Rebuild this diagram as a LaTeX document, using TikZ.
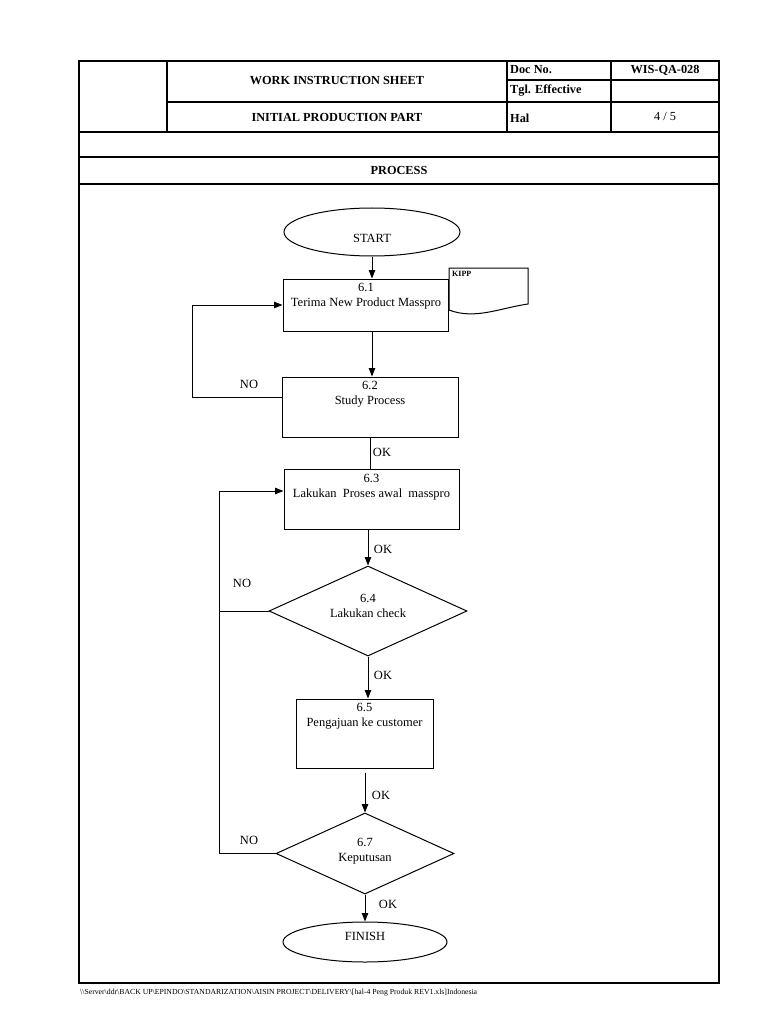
\documentclass[tikz,border=0pt]{standalone}
\usepackage{fontspec}
\setmainfont{Liberation Serif}
\usetikzlibrary{shapes.geometric,arrows.meta}
\begin{document}
\begin{tikzpicture}[x=1pt,y=-1pt,
 hline/.style={line width=1.1pt},
 hthick/.style={line width=2pt},
 hdr/.style={font=\bfseries\fontsize{12.3}{14}\selectfont, inner sep=0},
 hval/.style={font=\fontsize{12.3}{14}\selectfont, inner sep=0},
 txt/.style={font=\fontsize{12.5}{15}\selectfont, align=center, inner sep=0},
 lbl/.style={font=\fontsize{12.5}{14}\selectfont, inner sep=0},
 procbox/.style={draw, line width=1pt, rectangle, inner sep=0},
 term/.style={draw, line width=1pt, ellipse, inner sep=0},
 decis/.style={draw, line width=1pt, diamond, inner sep=0},
 conn/.style={line width=1pt},
 arr/.style={conn, -{Triangle[length=8.5pt,width=6.5pt]}},
]
\useasboundingbox (0,0) rectangle (768,1024);
\fill[white] (0,0) rectangle (768,1024);

% ---------- frame and header ----------
\draw[line width=1.4pt] (79,61) rectangle (719,983);
\draw[hline] (167,61) -- (167,132);
\draw[hline] (507,61) -- (507,132);
\draw[hline] (611,61) -- (611,132);
\draw[hline] (507,80) -- (719,80);
\draw[hline] (167,102) -- (719,102);
\draw[hline] (79,132) -- (719,132);
\draw[hthick] (79,157) -- (719,157);
\draw[hthick] (79,184) -- (719,184);

\node[hdr] (wis) at (337,81) {WORK INSTRUCTION SHEET};
\node[hdr] (ipp) at (337,117) {INITIAL PRODUCTION PART};
\node[hdr, anchor=west] (docno) at (510,70) {Doc No.};
\node[hdr, anchor=west] (tgl) at (510,91) {Tgl. Effective};
\node[hdr, anchor=west] (hal) at (510,118) {Hal};
\node[hdr] (docv) at (665,70) {WIS-QA-028};
\node[hval] (halv) at (665,117) {4 / 5};
\node[hdr] (proc) at (399,170) {PROCESS};

% ---------- flowchart nodes ----------
\node[term, minimum width=176, minimum height=48] (start) at (372,232) {};
\node[lbl] (startt) at (372,238) {START};

\node[procbox, minimum width=165, minimum height=52] (b61) at (365.5,305) {};
\node[txt] (t61) at (366,296.5) {6.1\\Terima New Product Masspro};

\draw[line width=1pt] (449,268) -- (528,268) -- (528,304)
  .. controls (500,308) and (475,320) .. (449,310) -- cycle;
\node[font=\bfseries\fontsize{8}{9}\selectfont, inner sep=0, anchor=west] (kipp) at (452,274) {KIPP};

\node[procbox, minimum width=176, minimum height=60] (b62) at (370,407) {};
\node[txt] (t62) at (370,394.5) {6.2\\Study Process};

\node[procbox, minimum width=175, minimum height=60] (b63) at (371.5,499) {};
\node[txt] (t63) at (371.5,487) {6.3\\Lakukan\ \ Proses awal\ \ masspro};

\node[decis, minimum width=198, minimum height=90] (d64) at (368,611) {};
\node[txt] (t64) at (368,606) {6.4\\Lakukan check};

\node[procbox, minimum width=137, minimum height=69] (b65) at (364.5,733.5) {};
\node[txt] (t65) at (364.5,716) {6.5\\Pengajuan ke customer};

\node[decis, minimum width=178, minimum height=81] (d67) at (365,853.5) {};
\node[txt] (t67) at (365,851) {6.7\\Keputusan};

\node[term, minimum width=164, minimum height=40] (finish) at (365,942) {};
\node[lbl] (finisht) at (365,936) {FINISH};

% ---------- connectors ----------
\coordinate (lp1) at (192,397);
\coordinate (lp2) at (219,491);

\draw[arr] (start.south) -- (start |- b61.north);
\draw[arr] (start |- b61.south) -- (start |- b62.north);
\draw[arr] (b62.west |- lp1) -- (lp1) |- (b61.west);
\draw[conn] (b62.south) -- (b62.south |- b63.north);
\draw[arr] (d64.north |- b63.south) -- (d64.north);
\draw[arr] (d64.south) -- (d64.south |- b65.north);
\draw[arr] ([yshift=-4pt]d67.north |- b65.south) -- (d67.north);
\draw[arr] (d67.south) -- (d67.south |- finish.north);
\draw[arr] (d67.west) -| (lp2) -- (b63.west |- lp2);
\draw[conn] (d64.west) -- (lp2 |- d64.west);

% ---------- labels ----------
\node[lbl] (no1) at (249,384) {NO};
\node[lbl] (no2) at (242,583) {NO};
\node[lbl] (no3) at (249,840) {NO};
\node[lbl] (ok1) at (382,452) {OK};
\node[lbl] (ok2) at (383,549) {OK};
\node[lbl] (ok3) at (383,675) {OK};
\node[lbl] (ok4) at (381,795) {OK};
\node[lbl] (ok5) at (388,904) {OK};

% ---------- footer ----------
\node[anchor=west, inner sep=0] (foot) at (80,993) {\resizebox{397pt}{!}{\fontsize{7}{8}\selectfont \textbackslash\textbackslash Server\textbackslash ddr\textbackslash BACK UP\textbackslash EPINDO\textbackslash STANDARIZATION\textbackslash AISIN PROJECT\textbackslash DELIVERY\textbackslash [hal-4 Peng Produk REV1.xls]Indonesia}};
\end{tikzpicture}
\end{document}
